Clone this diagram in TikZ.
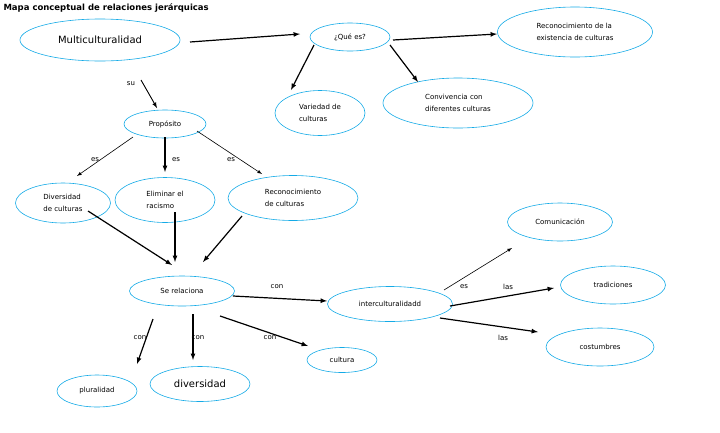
\documentclass[tikz,border=0pt]{standalone}
\usepackage{fontspec}
\setmainfont{DejaVu Sans}
\usetikzlibrary{shapes.geometric}
\definecolor{elc}{RGB}{20,170,230}
\begin{document}
\begin{tikzpicture}[x=1pt,y=-1pt,
 el/.style={ellipse,draw=elc,line width=0.6pt,inner sep=0pt,font=\fontsize{7}{12}\selectfont,align=left},
 ar/.style={-latex,line width=1.2pt},
 tn/.style={-latex,line width=0.6pt},
 lb/.style={font=\fontsize{7}{8}\selectfont}]
\useasboundingbox (0,0) rectangle (720,432);
\node[anchor=north west,font=\bfseries\fontsize{8.5}{10}\selectfont] (title) at (0,0) {Mapa conceptual de relaciones jerárquicas};
\node[el,minimum width=160,minimum height=42,font=\fontsize{10}{12}\selectfont] (multi) at (100,40) {Multiculturalidad};
\node[el,minimum width=80,minimum height=28] (que) at (350,37) {¿Qué es?};
\node[el,minimum width=155,minimum height=50] (rexist) at (575,32) {Reconocimiento de la\\existencia de culturas};
\node[el,minimum width=90,minimum height=45] (var) at (320,113) {Variedad de\\culturas};
\node[el,minimum width=150,minimum height=50] (conv) at (458,103) {Convivencia con\\diferentes culturas};
\node[el,minimum width=82,minimum height=28] (prop) at (165,124) {Propósito};
\node[el,minimum width=95,minimum height=40] (div) at (63,203) {Diversidad\\de culturas};
\node[el,minimum width=100,minimum height=45] (elim) at (165,200) {Eliminar el\\racismo};
\node[el,minimum width=130,minimum height=45] (rcult) at (293,198) {Reconocimiento\\de culturas};
\node[el,minimum width=105,minimum height=30] (serel) at (182,291) {Se relaciona};
\node[el,minimum width=125,minimum height=35] (inter) at (390,304) {intercultural\-idadd};
\node[el,minimum width=105,minimum height=38] (com) at (560,222) {Comunicación};
\node[el,minimum width=105,minimum height=38] (trad) at (613,285) {tradiciones};
\node[el,minimum width=108,minimum height=38] (cost) at (600,347) {costumbres};
\node[el,minimum width=70,minimum height=25] (cult) at (342,360) {cultura};
\node[el,minimum width=100,minimum height=35,font=\fontsize{10}{12}\selectfont] (diver) at (200,384) {diversidad};
\node[el,minimum width=80,minimum height=32] (plur) at (97,391) {pluralidad};
\draw[ar] (190,42) -- (300,34);
\draw[ar] (314,45) -- (291,90);
\draw[ar] (393,40) -- (497,34);
\draw[ar] (390,45) -- (418,82);
\draw[tn,line width=0.9pt] (141,80) -- (157,108);
\node[lb] (lsu) at (131,84) {su};
\draw[tn] (133,137) -- (77,176);
\node[lb] (l1) at (95,160) {es};
\draw[ar] (165,137) -- (165,172);
\node[lb] (l2) at (176,160) {es};
\draw[tn] (197,131) -- (262,174);
\node[lb] (l3) at (231,160) {es};
\draw[ar] (88,211) -- (172,265);
\draw[ar] (175,212) -- (175,262);
\draw[ar] (242,216) -- (203,262);
\draw[ar] (233,296) -- (327,301);
\node[lb] (l4) at (277,287) {con};
\draw[ar] (220,316) -- (308,346);
\node[lb] (l5) at (270,338) {con};
\draw[ar] (193,314) -- (193,360);
\node[lb] (l6) at (198,338) {con};
\draw[ar] (153,319) -- (137,364);
\node[lb] (l7) at (140,338) {con};
\draw[tn] (444,290) -- (512,248);
\node[lb] (l8) at (464,287) {es};
\draw[ar] (450,306) -- (554,288);
\node[lb] (l9) at (508,287) {las};
\draw[ar] (440,318) -- (538,332);
\node[lb] (l10) at (503,338) {las};
\end{tikzpicture}
\end{document}
